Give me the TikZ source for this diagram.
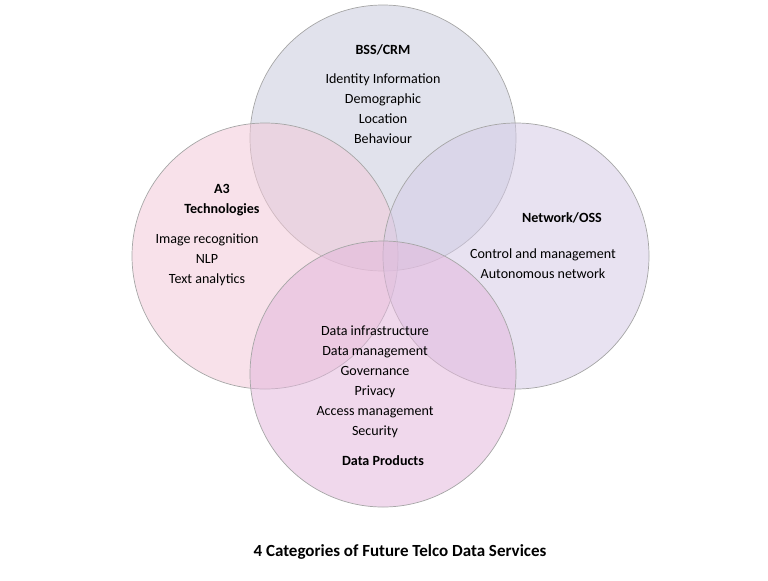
\documentclass[tikz,border=0pt]{standalone}
\usepackage{fontspec}
\setmainfont{Carlito}
\usetikzlibrary{positioning}
\definecolor{bsscol}{HTML}{C9CBDD}
\definecolor{a3col}{HTML}{F2C9D8}
\definecolor{netcol}{HTML}{D5CBE6}
\definecolor{datacol}{HTML}{E3B8DC}
\tikzset{
  venn/.style={draw=gray!70, fill opacity=0.55, line width=0.6pt},
  blocktext/.style={align=center, font=\fontsize{12}{17}\selectfont},
  headtext/.style={align=center, font=\fontsize{12}{17}\selectfont\bfseries}
}
\begin{document}
\begin{tikzpicture}[x=0.03cm,y=-0.03cm]
  \useasboundingbox (0,0) rectangle (768,580);

  % the four circles
  \filldraw[venn, fill=bsscol] (383,138) circle (133);
  \filldraw[venn, fill=a3col] (265,256) circle (133);
  \filldraw[venn, fill=netcol] (516,256) circle (133);
  \filldraw[venn, fill=datacol] (383,374) circle (133);

  % labels
  \node[headtext] (bss) at (383,50) {BSS/CRM};
  \node[blocktext] (bssitems) at (383,109) {Identity Information\\Demographic\\Location\\Behaviour};

  \node[headtext] (a3) at (222,200) {A3\\Technologies};
  \node[blocktext] (a3items) at (207,260) {Image recognition\\NLP\\Text analytics};

  \node[headtext] (net) at (562,218) {Network/OSS};
  \node[blocktext] (netitems) at (543,264) {Control and management\\Autonomous network};

  \node[blocktext] (dataitems) at (375,382) {Data infrastructure\\Data management\\Governance\\Privacy\\Access management\\Security};
  \node[headtext] (data) at (383,461) {Data Products};

  \node[font=\fontsize{14.5}{17}\selectfont\bfseries] (title) at (400,552) {4 Categories of Future Telco Data Services};
\end{tikzpicture}
\end{document}
